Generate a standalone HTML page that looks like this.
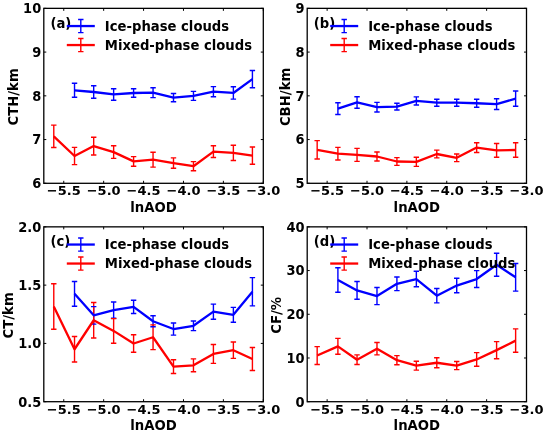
<!DOCTYPE html>
<html><head><meta charset="utf-8"><style>
html,body{margin:0;padding:0;background:#fff;}
svg{display:block;}
text{font-family:'DejaVu Sans', 'Liberation Sans', sans-serif;font-weight:bold;fill:#000;}
.tk{font-size:13px;}
.lab{font-size:13.25px;}
.leg{font-size:13.2px;}
</style></head><body>
<svg width="550" height="436" viewBox="0 0 550 436">
<rect width="550" height="436" fill="#fff"/>
<path d="M63.75 183.3v-2.5M63.75 8.35v2.5M103.66 183.3v-2.5M103.66 8.35v2.5M143.57 183.3v-2.5M143.57 8.35v2.5M183.48 183.3v-2.5M183.48 8.35v2.5M223.39 183.3v-2.5M223.39 8.35v2.5M263.3 183.3v-2.5M263.3 8.35v2.5M43.8 183.3h2.5M263.3 183.3h-2.5M43.8 139.56h2.5M263.3 139.56h-2.5M43.8 95.83h2.5M263.3 95.83h-2.5M43.8 52.09h2.5M263.3 52.09h-2.5M43.8 8.35h2.5M263.3 8.35h-2.5" stroke="#000" stroke-width="1.0" fill="none"/>
<text x="63.75" y="195.1" class="tk" text-anchor="middle">−5.5</text>
<text x="103.66" y="195.1" class="tk" text-anchor="middle">−5.0</text>
<text x="143.57" y="195.1" class="tk" text-anchor="middle">−4.5</text>
<text x="183.48" y="195.1" class="tk" text-anchor="middle">−4.0</text>
<text x="223.39" y="195.1" class="tk" text-anchor="middle">−3.5</text>
<text x="263.3" y="195.1" class="tk" text-anchor="middle">−3.0</text>
<text transform="translate(41.2,188.2) scale(1,1.1)" class="tk" text-anchor="end">6</text>
<text transform="translate(41.2,144.46) scale(1,1.1)" class="tk" text-anchor="end">7</text>
<text transform="translate(41.2,100.73) scale(1,1.1)" class="tk" text-anchor="end">8</text>
<text transform="translate(41.2,56.99) scale(1,1.1)" class="tk" text-anchor="end">9</text>
<text transform="translate(41.2,13.25) scale(1,1.1)" class="tk" text-anchor="end">10</text>
<text x="153.55" y="212" class="lab" text-anchor="middle">lnAOD</text>
<text transform="translate(17.8,96.92) rotate(-90)" x="0" y="0" class="lab" text-anchor="middle">CTH/km</text>
<path d="M74.53 83.3V97.3M93.69 85.8V98.2M113.64 88.7V100.2M133.6 88.7V97.3M153.05 87.7V97.6M173.5 93.5V101.8M193.46 91.4V100.4M213.41 86.6V96.8M233.37 86.8V99.1M252.42 70.5V87.8" fill="none" stroke="#0000ff" stroke-width="1.4"/>
<path d="M53.78 125.1V147.5M74.53 147.4V164.6M93.69 137.2V155M113.64 145.8V158.4M133.6 156.6V166.2M153.05 152.3V167.1M173.5 157.9V168.2M193.46 161.6V170.8M213.41 145.7V157.5M233.37 145.3V160.5M252.42 147V164.3" fill="none" stroke="#ff0000" stroke-width="1.4"/>
<polyline points="74.53,90.3 93.69,92 113.64,94.45 133.6,93 153.05,92.65 173.5,97.65 193.46,95.9 213.41,91.7 233.37,92.95 252.42,79.15" fill="none" stroke="#0000ff" stroke-width="2.3" stroke-linejoin="round" stroke-linecap="butt"/>
<path d="M71.83 83.3H77.23M71.83 97.3H77.23M90.99 85.8H96.39M90.99 98.2H96.39M110.94 88.7H116.34M110.94 100.2H116.34M130.9 88.7H136.3M130.9 97.3H136.3M150.35 87.7H155.75M150.35 97.6H155.75M170.8 93.5H176.2M170.8 101.8H176.2M190.76 91.4H196.16M190.76 100.4H196.16M210.71 86.6H216.11M210.71 96.8H216.11M230.67 86.8H236.07M230.67 99.1H236.07M249.72 70.5H255.12M249.72 87.8H255.12" fill="none" stroke="#0000ff" stroke-width="1.4"/>
<polyline points="53.78,136.3 74.53,156 93.69,146.1 113.64,152.1 133.6,161.4 153.05,159.7 173.5,163.05 193.46,166.2 213.41,151.6 233.37,152.9 252.42,155.65" fill="none" stroke="#ff0000" stroke-width="2.3" stroke-linejoin="round" stroke-linecap="butt"/>
<path d="M51.08 125.1H56.48M51.08 147.5H56.48M71.83 147.4H77.23M71.83 164.6H77.23M90.99 137.2H96.39M90.99 155H96.39M110.94 145.8H116.34M110.94 158.4H116.34M130.9 156.6H136.3M130.9 166.2H136.3M150.35 152.3H155.75M150.35 167.1H155.75M170.8 157.9H176.2M170.8 168.2H176.2M190.76 161.6H196.16M190.76 170.8H196.16M210.71 145.7H216.11M210.71 157.5H216.11M230.67 145.3H236.07M230.67 160.5H236.07M249.72 147H255.12M249.72 164.3H255.12" fill="none" stroke="#ff0000" stroke-width="1.4"/>
<text x="50.4" y="27.95" class="leg">(a)</text>
<path d="M66.8 26.05H94.8" stroke="#0000ff" stroke-width="2.3"/>
<path d="M80.8 19.45V32.65M78.1 19.45h5.4M78.1 32.65h5.4" stroke="#0000ff" stroke-width="1.4" fill="none"/>
<text x="104.8" y="30.65" class="leg">Ice-phase clouds</text>
<path d="M66.8 45.05H94.8" stroke="#ff0000" stroke-width="2.3"/>
<path d="M80.8 38.45V51.65M78.1 38.45h5.4M78.1 51.65h5.4" stroke="#ff0000" stroke-width="1.4" fill="none"/>
<text x="104.8" y="49.65" class="leg">Mixed-phase clouds</text>
<rect x="43.8" y="8.35" width="219.5" height="174.95" fill="none" stroke="#000" stroke-width="1.3"/>
<path d="M327.14 183.3v-2.5M327.14 8.35v2.5M367.01 183.3v-2.5M367.01 8.35v2.5M406.88 183.3v-2.5M406.88 8.35v2.5M446.75 183.3v-2.5M446.75 8.35v2.5M486.63 183.3v-2.5M486.63 8.35v2.5M526.5 183.3v-2.5M526.5 8.35v2.5M307.2 183.3h2.5M526.5 183.3h-2.5M307.2 139.56h2.5M526.5 139.56h-2.5M307.2 95.83h2.5M526.5 95.83h-2.5M307.2 52.09h2.5M526.5 52.09h-2.5M307.2 8.35h2.5M526.5 8.35h-2.5" stroke="#000" stroke-width="1.0" fill="none"/>
<text x="327.14" y="195.1" class="tk" text-anchor="middle">−5.5</text>
<text x="367.01" y="195.1" class="tk" text-anchor="middle">−5.0</text>
<text x="406.88" y="195.1" class="tk" text-anchor="middle">−4.5</text>
<text x="446.75" y="195.1" class="tk" text-anchor="middle">−4.0</text>
<text x="486.63" y="195.1" class="tk" text-anchor="middle">−3.5</text>
<text x="526.5" y="195.1" class="tk" text-anchor="middle">−3.0</text>
<text transform="translate(304.6,188.2) scale(1,1.1)" class="tk" text-anchor="end">5</text>
<text transform="translate(304.6,144.46) scale(1,1.1)" class="tk" text-anchor="end">6</text>
<text transform="translate(304.6,100.73) scale(1,1.1)" class="tk" text-anchor="end">7</text>
<text transform="translate(304.6,56.99) scale(1,1.1)" class="tk" text-anchor="end">8</text>
<text transform="translate(304.6,13.25) scale(1,1.1)" class="tk" text-anchor="end">9</text>
<text x="416.85" y="212" class="lab" text-anchor="middle">lnAOD</text>
<text transform="translate(289.9,96.92) rotate(-90)" x="0" y="0" class="lab" text-anchor="middle">CBH/km</text>
<path d="M337.9 102.7V114.5M357.04 96.7V108.2M376.98 102.4V112M396.91 103.3V110M416.35 96.9V105M436.79 99.2V106.2M456.72 99.2V106.2M476.66 99.2V107.3M496.6 98.8V109.5M515.63 91V106.3" fill="none" stroke="#0000ff" stroke-width="1.4"/>
<path d="M317.17 140.6V159M337.9 147.4V160M357.04 148.4V161.4M376.98 152V161M396.91 157.6V165.4M416.35 157.3V166.4M436.79 150.1V157.9M456.72 154V161.6M476.66 142.7V152.5M496.6 143.5V157.3M515.63 142.7V157.3" fill="none" stroke="#ff0000" stroke-width="1.4"/>
<polyline points="337.9,108.6 357.04,102.45 376.98,107.2 396.91,106.65 416.35,100.95 436.79,102.7 456.72,102.7 476.66,103.25 496.6,104.15 515.63,98.65" fill="none" stroke="#0000ff" stroke-width="2.3" stroke-linejoin="round" stroke-linecap="butt"/>
<path d="M335.2 102.7H340.6M335.2 114.5H340.6M354.34 96.7H359.74M354.34 108.2H359.74M374.28 102.4H379.68M374.28 112H379.68M394.21 103.3H399.61M394.21 110H399.61M413.65 96.9H419.05M413.65 105H419.05M434.09 99.2H439.49M434.09 106.2H439.49M454.02 99.2H459.42M454.02 106.2H459.42M473.96 99.2H479.36M473.96 107.3H479.36M493.9 98.8H499.3M493.9 109.5H499.3M512.93 91H518.33M512.93 106.3H518.33" fill="none" stroke="#0000ff" stroke-width="1.4"/>
<polyline points="317.17,149.8 337.9,153.7 357.04,154.9 376.98,156.5 396.91,161.5 416.35,161.85 436.79,154 456.72,157.8 476.66,147.6 496.6,150.4 515.63,150" fill="none" stroke="#ff0000" stroke-width="2.3" stroke-linejoin="round" stroke-linecap="butt"/>
<path d="M314.47 140.6H319.87M314.47 159H319.87M335.2 147.4H340.6M335.2 160H340.6M354.34 148.4H359.74M354.34 161.4H359.74M374.28 152H379.68M374.28 161H379.68M394.21 157.6H399.61M394.21 165.4H399.61M413.65 157.3H419.05M413.65 166.4H419.05M434.09 150.1H439.49M434.09 157.9H439.49M454.02 154H459.42M454.02 161.6H459.42M473.96 142.7H479.36M473.96 152.5H479.36M493.9 143.5H499.3M493.9 157.3H499.3M512.93 142.7H518.33M512.93 157.3H518.33" fill="none" stroke="#ff0000" stroke-width="1.4"/>
<text x="313.8" y="27.95" class="leg">(b)</text>
<path d="M330.2 26.05H358.2" stroke="#0000ff" stroke-width="2.3"/>
<path d="M344.2 19.45V32.65M341.5 19.45h5.4M341.5 32.65h5.4" stroke="#0000ff" stroke-width="1.4" fill="none"/>
<text x="368.2" y="30.65" class="leg">Ice-phase clouds</text>
<path d="M330.2 45.05H358.2" stroke="#ff0000" stroke-width="2.3"/>
<path d="M344.2 38.45V51.65M341.5 38.45h5.4M341.5 51.65h5.4" stroke="#ff0000" stroke-width="1.4" fill="none"/>
<text x="368.2" y="49.65" class="leg">Mixed-phase clouds</text>
<rect x="307.2" y="8.35" width="219.3" height="174.95" fill="none" stroke="#000" stroke-width="1.3"/>
<path d="M63.75 401.7v-2.5M63.75 226.85v2.5M103.66 401.7v-2.5M103.66 226.85v2.5M143.57 401.7v-2.5M143.57 226.85v2.5M183.48 401.7v-2.5M183.48 226.85v2.5M223.39 401.7v-2.5M223.39 226.85v2.5M263.3 401.7v-2.5M263.3 226.85v2.5M43.8 401.7h2.5M263.3 401.7h-2.5M43.8 343.42h2.5M263.3 343.42h-2.5M43.8 285.13h2.5M263.3 285.13h-2.5M43.8 226.85h2.5M263.3 226.85h-2.5" stroke="#000" stroke-width="1.0" fill="none"/>
<text x="63.75" y="413.5" class="tk" text-anchor="middle">−5.5</text>
<text x="103.66" y="413.5" class="tk" text-anchor="middle">−5.0</text>
<text x="143.57" y="413.5" class="tk" text-anchor="middle">−4.5</text>
<text x="183.48" y="413.5" class="tk" text-anchor="middle">−4.0</text>
<text x="223.39" y="413.5" class="tk" text-anchor="middle">−3.5</text>
<text x="263.3" y="413.5" class="tk" text-anchor="middle">−3.0</text>
<text transform="translate(41.2,406.6) scale(1,1.1)" class="tk" text-anchor="end">0.5</text>
<text transform="translate(41.2,348.32) scale(1,1.1)" class="tk" text-anchor="end">1.0</text>
<text transform="translate(41.2,290.03) scale(1,1.1)" class="tk" text-anchor="end">1.5</text>
<text transform="translate(41.2,231.75) scale(1,1.1)" class="tk" text-anchor="end">2.0</text>
<text x="153.55" y="430.4" class="lab" text-anchor="middle">lnAOD</text>
<text transform="translate(13.1,315.38) rotate(-90)" x="0" y="0" class="lab" text-anchor="middle">CT/km</text>
<path d="M74.53 281.5V306.2M93.69 306.6V324.1M113.64 302V318.2M133.6 300.2V313.5M153.05 315.7V326.7M173.5 323V335.1M193.46 321V330.6M213.41 304.1V319.2M233.37 307.4V322.3M252.42 277.6V305.9" fill="none" stroke="#0000ff" stroke-width="1.4"/>
<path d="M53.78 283.8V329.2M74.53 336.5V362M93.69 302.5V338M113.64 318.6V343.2M133.6 334.8V352.2M153.05 324.9V349.6M173.5 359.8V373.5M193.46 358.9V371.8M213.41 344.5V363.4M233.37 342V358.4M252.42 347.5V370.5" fill="none" stroke="#ff0000" stroke-width="1.4"/>
<polyline points="74.53,293.85 93.69,315.35 113.64,310.1 133.6,306.85 153.05,321.2 173.5,329.05 193.46,325.8 213.41,311.65 233.37,314.85 252.42,291.75" fill="none" stroke="#0000ff" stroke-width="2.3" stroke-linejoin="round" stroke-linecap="butt"/>
<path d="M71.83 281.5H77.23M71.83 306.2H77.23M90.99 306.6H96.39M90.99 324.1H96.39M110.94 302H116.34M110.94 318.2H116.34M130.9 300.2H136.3M130.9 313.5H136.3M150.35 315.7H155.75M150.35 326.7H155.75M170.8 323H176.2M170.8 335.1H176.2M190.76 321H196.16M190.76 330.6H196.16M210.71 304.1H216.11M210.71 319.2H216.11M230.67 307.4H236.07M230.67 322.3H236.07M249.72 277.6H255.12M249.72 305.9H255.12" fill="none" stroke="#0000ff" stroke-width="1.4"/>
<polyline points="53.78,306.5 74.53,349.25 93.69,320.25 113.64,330.9 133.6,343.5 153.05,337.25 173.5,366.65 193.46,365.35 213.41,353.95 233.37,350.2 252.42,359" fill="none" stroke="#ff0000" stroke-width="2.3" stroke-linejoin="round" stroke-linecap="butt"/>
<path d="M51.08 283.8H56.48M51.08 329.2H56.48M71.83 336.5H77.23M71.83 362H77.23M90.99 302.5H96.39M90.99 338H96.39M110.94 318.6H116.34M110.94 343.2H116.34M130.9 334.8H136.3M130.9 352.2H136.3M150.35 324.9H155.75M150.35 349.6H155.75M170.8 359.8H176.2M170.8 373.5H176.2M190.76 358.9H196.16M190.76 371.8H196.16M210.71 344.5H216.11M210.71 363.4H216.11M230.67 342H236.07M230.67 358.4H236.07M249.72 347.5H255.12M249.72 370.5H255.12" fill="none" stroke="#ff0000" stroke-width="1.4"/>
<text x="50.4" y="246.45" class="leg">(c)</text>
<path d="M66.8 244.55H94.8" stroke="#0000ff" stroke-width="2.3"/>
<path d="M80.8 237.95V251.15M78.1 237.95h5.4M78.1 251.15h5.4" stroke="#0000ff" stroke-width="1.4" fill="none"/>
<text x="104.8" y="249.15" class="leg">Ice-phase clouds</text>
<path d="M66.8 263.55H94.8" stroke="#ff0000" stroke-width="2.3"/>
<path d="M80.8 256.95V270.15M78.1 256.95h5.4M78.1 270.15h5.4" stroke="#ff0000" stroke-width="1.4" fill="none"/>
<text x="104.8" y="268.15" class="leg">Mixed-phase clouds</text>
<rect x="43.8" y="226.85" width="219.5" height="174.85" fill="none" stroke="#000" stroke-width="1.3"/>
<path d="M327.14 401.7v-2.5M327.14 226.85v2.5M367.01 401.7v-2.5M367.01 226.85v2.5M406.88 401.7v-2.5M406.88 226.85v2.5M446.75 401.7v-2.5M446.75 226.85v2.5M486.63 401.7v-2.5M486.63 226.85v2.5M526.5 401.7v-2.5M526.5 226.85v2.5M307.2 401.7h2.5M526.5 401.7h-2.5M307.2 357.99h2.5M526.5 357.99h-2.5M307.2 314.27h2.5M526.5 314.27h-2.5M307.2 270.56h2.5M526.5 270.56h-2.5M307.2 226.85h2.5M526.5 226.85h-2.5" stroke="#000" stroke-width="1.0" fill="none"/>
<text x="327.14" y="413.5" class="tk" text-anchor="middle">−5.5</text>
<text x="367.01" y="413.5" class="tk" text-anchor="middle">−5.0</text>
<text x="406.88" y="413.5" class="tk" text-anchor="middle">−4.5</text>
<text x="446.75" y="413.5" class="tk" text-anchor="middle">−4.0</text>
<text x="486.63" y="413.5" class="tk" text-anchor="middle">−3.5</text>
<text x="526.5" y="413.5" class="tk" text-anchor="middle">−3.0</text>
<text transform="translate(304.6,406.6) scale(1,1.1)" class="tk" text-anchor="end">0</text>
<text transform="translate(304.6,362.89) scale(1,1.1)" class="tk" text-anchor="end">10</text>
<text transform="translate(304.6,319.17) scale(1,1.1)" class="tk" text-anchor="end">20</text>
<text transform="translate(304.6,275.46) scale(1,1.1)" class="tk" text-anchor="end">30</text>
<text transform="translate(304.6,231.75) scale(1,1.1)" class="tk" text-anchor="end">40</text>
<text x="416.85" y="430.4" class="lab" text-anchor="middle">lnAOD</text>
<text transform="translate(281.2,315.38) rotate(-90)" x="0" y="0" class="lab" text-anchor="middle">CF/%</text>
<path d="M337.9 267.7V292.2M357.04 281.5V299.3M376.98 287.5V304.6M396.91 277V290.6M416.35 271.3V286.8M436.79 288.5V302.9M456.72 278.3V292.8M476.66 270.6V287.5M496.6 253.2V276.3M515.63 263.5V291.1" fill="none" stroke="#0000ff" stroke-width="1.4"/>
<path d="M317.17 346.6V364.5M337.9 338.4V354.3M357.04 354.9V364.5M376.98 342.5V354.9M396.91 355.6V364.8M416.35 361.2V370.1M436.79 357.7V367.8M456.72 361.5V369.6M476.66 352.6V366.3M496.6 341.6V358.7M515.63 328.9V352.3" fill="none" stroke="#ff0000" stroke-width="1.4"/>
<polyline points="337.9,279.95 357.04,290.4 376.98,296.05 396.91,283.8 416.35,279.05 436.79,295.7 456.72,285.55 476.66,279.05 496.6,264.75 515.63,277.3" fill="none" stroke="#0000ff" stroke-width="2.3" stroke-linejoin="round" stroke-linecap="butt"/>
<path d="M335.2 267.7H340.6M335.2 292.2H340.6M354.34 281.5H359.74M354.34 299.3H359.74M374.28 287.5H379.68M374.28 304.6H379.68M394.21 277H399.61M394.21 290.6H399.61M413.65 271.3H419.05M413.65 286.8H419.05M434.09 288.5H439.49M434.09 302.9H439.49M454.02 278.3H459.42M454.02 292.8H459.42M473.96 270.6H479.36M473.96 287.5H479.36M493.9 253.2H499.3M493.9 276.3H499.3M512.93 263.5H518.33M512.93 291.1H518.33" fill="none" stroke="#0000ff" stroke-width="1.4"/>
<polyline points="317.17,355.55 337.9,346.35 357.04,359.7 376.98,348.7 396.91,360.2 416.35,365.65 436.79,362.75 456.72,365.55 476.66,359.45 496.6,350.15 515.63,340.6" fill="none" stroke="#ff0000" stroke-width="2.3" stroke-linejoin="round" stroke-linecap="butt"/>
<path d="M314.47 346.6H319.87M314.47 364.5H319.87M335.2 338.4H340.6M335.2 354.3H340.6M354.34 354.9H359.74M354.34 364.5H359.74M374.28 342.5H379.68M374.28 354.9H379.68M394.21 355.6H399.61M394.21 364.8H399.61M413.65 361.2H419.05M413.65 370.1H419.05M434.09 357.7H439.49M434.09 367.8H439.49M454.02 361.5H459.42M454.02 369.6H459.42M473.96 352.6H479.36M473.96 366.3H479.36M493.9 341.6H499.3M493.9 358.7H499.3M512.93 328.9H518.33M512.93 352.3H518.33" fill="none" stroke="#ff0000" stroke-width="1.4"/>
<text x="313.8" y="246.45" class="leg">(d)</text>
<path d="M330.2 244.55H358.2" stroke="#0000ff" stroke-width="2.3"/>
<path d="M344.2 237.95V251.15M341.5 237.95h5.4M341.5 251.15h5.4" stroke="#0000ff" stroke-width="1.4" fill="none"/>
<text x="368.2" y="249.15" class="leg">Ice-phase clouds</text>
<path d="M330.2 263.55H358.2" stroke="#ff0000" stroke-width="2.3"/>
<path d="M344.2 256.95V270.15M341.5 256.95h5.4M341.5 270.15h5.4" stroke="#ff0000" stroke-width="1.4" fill="none"/>
<text x="368.2" y="268.15" class="leg">Mixed-phase clouds</text>
<rect x="307.2" y="226.85" width="219.3" height="174.85" fill="none" stroke="#000" stroke-width="1.3"/>
</svg></body></html>
